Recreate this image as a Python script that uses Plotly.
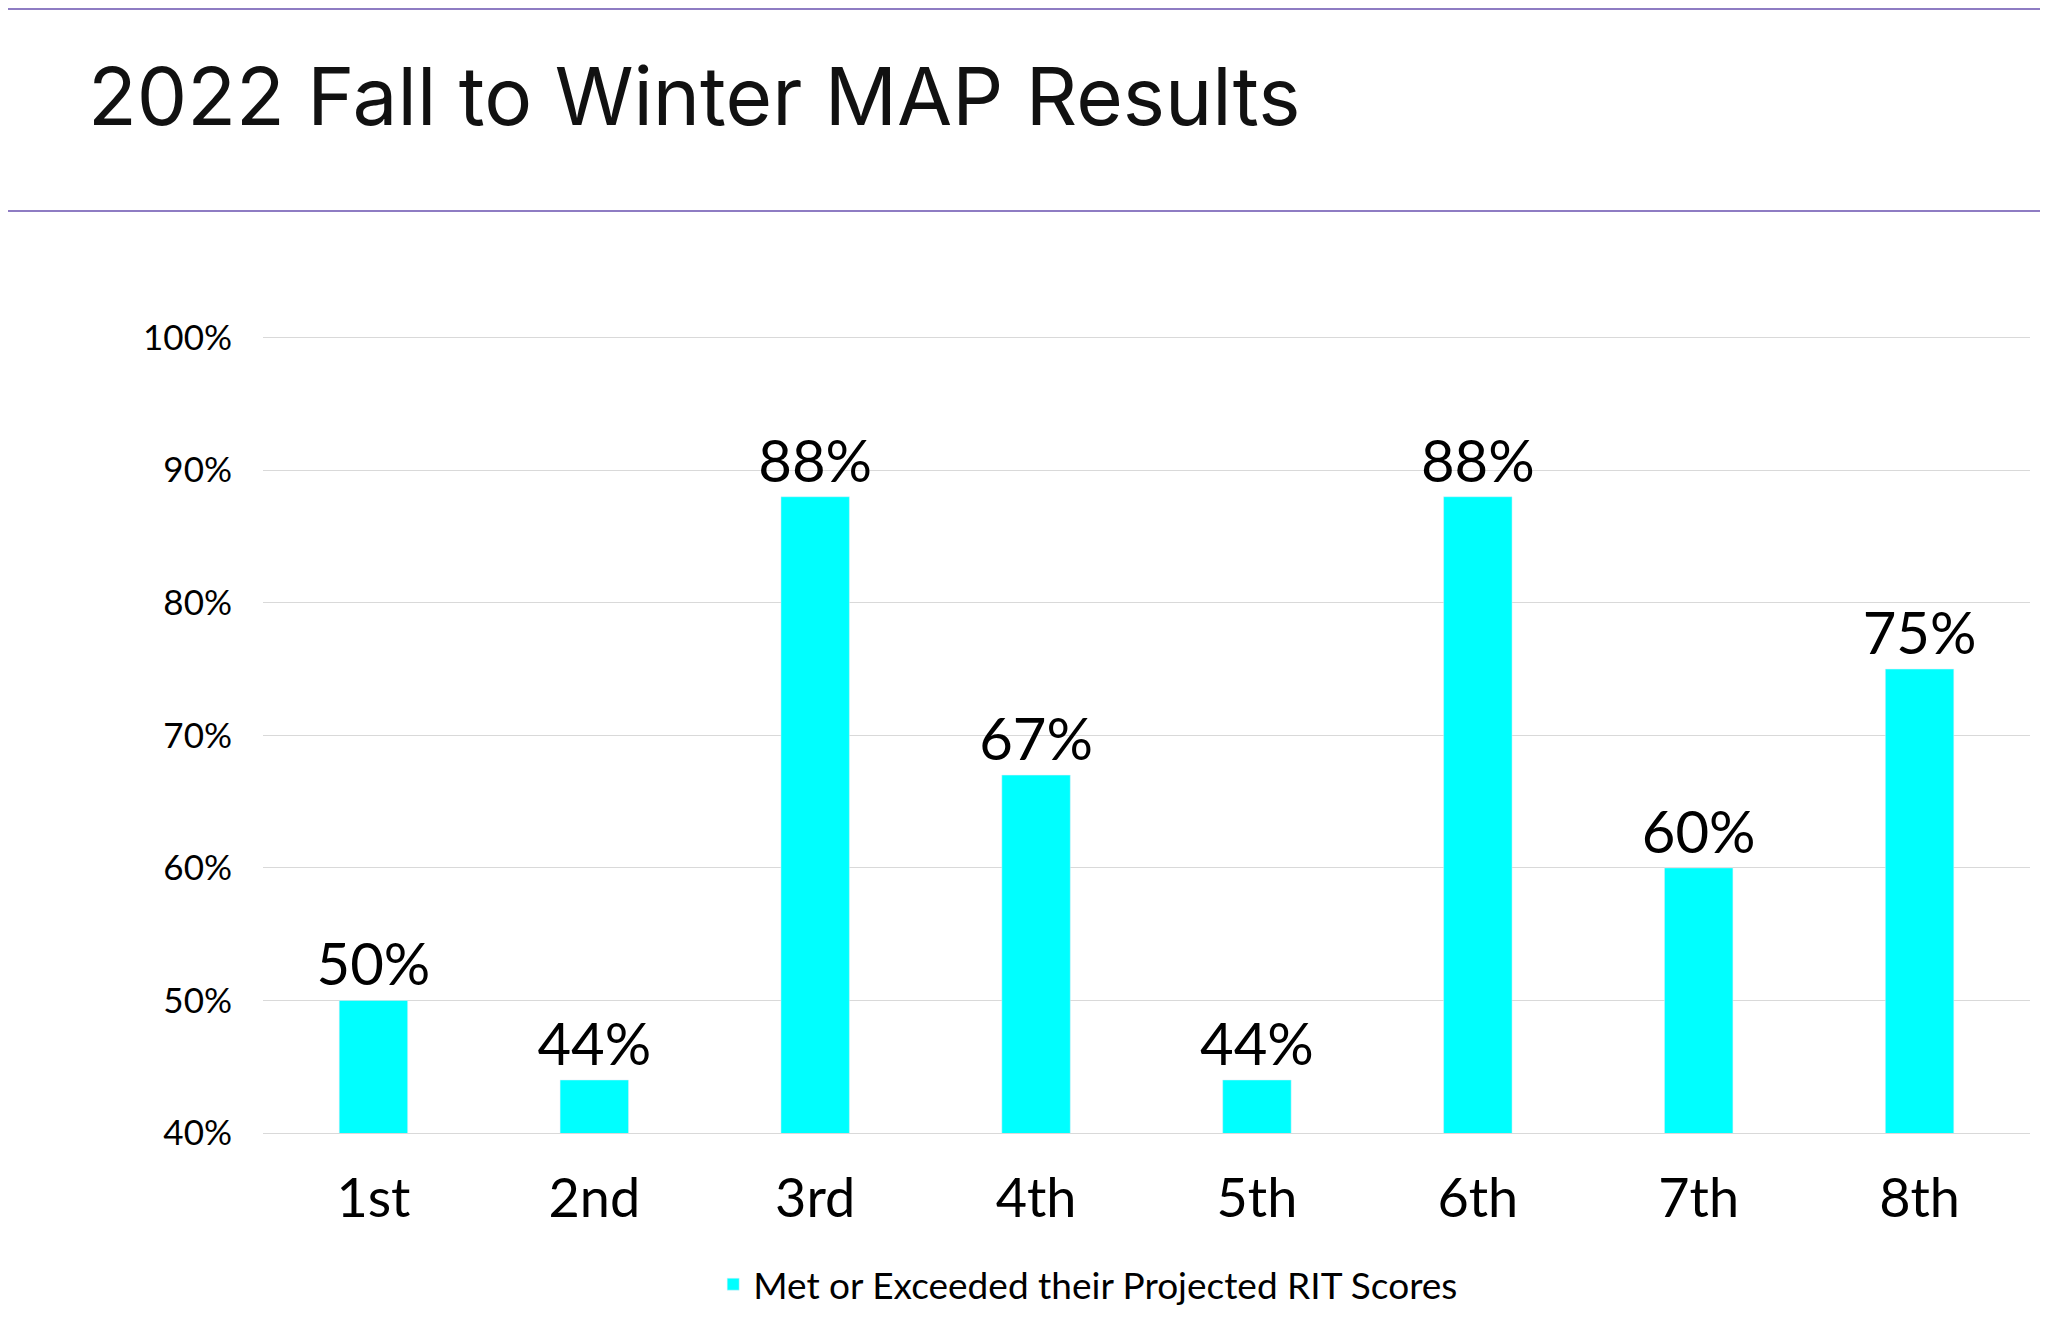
import plotly.graph_objects as go

grades = ["1st", "2nd", "3rd", "4th", "5th", "6th", "7th", "8th"]
values = [0.50, 0.44, 0.88, 0.67, 0.44, 0.88, 0.60, 0.75]
series_name = "Met or Exceeded their Projected RIT Scores"
title = "2022 Fall to Winter MAP Results"

fig = go.Figure(go.Bar(
    x=grades, y=values, name=series_name, marker_color="#00FFFF",
    text=[f"{v:.0%}" for v in values], textposition="outside",
    textfont=dict(size=58, color="black", family="Lato"),
    constraintext="none",
    cliponaxis=False, width=0.31, showlegend=True))

fig.update_layout(
    width=2048, height=1328, plot_bgcolor="white", paper_bgcolor="white",
    margin=dict(l=255, r=26, t=327, b=203),
    font=dict(family="Lato", color="black"),
    yaxis=dict(range=[0.4, 1.002], tickformat=".0%", dtick=0.1, gridcolor="#D9D9D9",
               tickfont=dict(size=35), ticks="", zeroline=False, showline=False,
               ticklabelstandoff=30),
    xaxis=dict(tickfont=dict(size=54), showline=True, linecolor="#D9D9D9", ticks="",
               ticklabelstandoff=18),
    legend=dict(orientation="h", x=0.467, xanchor="center", y=-0.19, yanchor="middle",
                font=dict(size=37)),
    shapes=[dict(type="rect", xref="paper", yref="paper", x0=-0.145, x1=1.013,
                 y0=1.1554, y1=1.4085, line=dict(color="#8E7CC3", width=2))],
    annotations=[dict(text=title, xref="paper", yref="paper", x=-0.1, y=1.30,
                      xanchor="left", yanchor="middle", showarrow=False,
                      font=dict(size=80, family="Inter", color="#111"))],
)
fig.write_html("out.html")
